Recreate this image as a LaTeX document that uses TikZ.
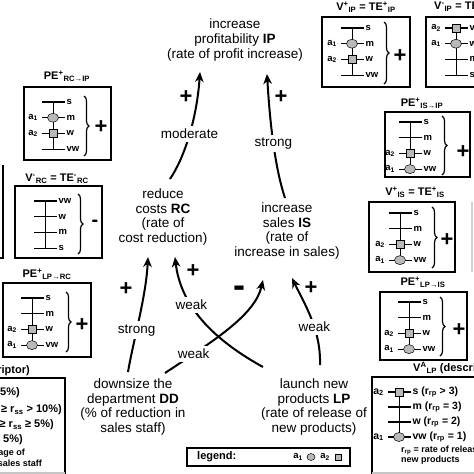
\documentclass[tikz,border=0pt]{standalone}
\usepackage{fontspec}
\setmainfont{Liberation Sans}
\usetikzlibrary{arrows.meta,calc,shapes.geometric,decorations.pathreplacing}
\tikzset{
	goal/.style={align=center,inner sep=1pt,font=\fontsize{13.5}{14.8}\selectfont},
	link/.style={line width=2pt,-{Stealth[length=10pt,width=8.5pt,inset=3pt]}},
	strength/.style={fill=white,inner xsep=1pt,inner ysep=3pt,font=\fontsize{13.5}{14}\selectfont},
	plus/.style={inner sep=0pt,font=\fontsize{22}{22}\bfseries\selectfont},
	minus/.style={inner sep=0pt,font=\fontsize{#1}{#1}\bfseries\selectfont},
	panel/.style={draw,line width=1.2pt},
	boxtitle/.style={inner sep=0pt,font=\fontsize{11}{12}\bfseries\selectfont},
	rung/.style={line width=1.2pt},
	pole/.style={line width=0.7pt},
	rlab/.style={anchor=west,inner sep=1pt,font=\fontsize{9.5}{10}\bfseries\selectfont},
	alab/.style={anchor=east,inner sep=1pt,font=\fontsize{9.5}{10}\bfseries\selectfont},
	desc/.style={anchor=east,inner sep=1pt,font=\fontsize{11}{12}\bfseries\selectfont},
	note/.style={inner sep=0pt,align=left,font=\fontsize{9}{10}\bfseries\selectfont},
	mkc/.style={ellipse,draw,fill=gray!55,minimum width=11pt,minimum height=9pt,inner sep=0pt,line width=0.5pt},
	mks/.style={draw,fill=gray!55,minimum size=7.5pt,inner sep=0pt,line width=0.5pt},
	curly/.style={decorate,decoration={brace,amplitude=5pt},line width=1.2pt}
}
% one scale: name, x, top y, spacing, rungs (label/marker)
\newcommand{\ladder}[5]{%
	\draw[pole] (#2,#3) -- (#2,{#3+3*#4});
	\foreach \lab/\mk [count=\i from 0] in {#5}{
		\draw[rung] ({#2-11},{#3+\i*#4}) -- ({#2+12},{#3+\i*#4}) node[rlab] (#1-\i) {\lab};
		\ifnum\mk=1\relax
			\node[mkc] (#1-c) at (#2,{#3+\i*#4}) {};
			\node[alab] (#1-a) at ({#2-14},{#3+\i*#4}) {a\textsubscript{1}};
		\fi
		\ifnum\mk=2\relax
			\node[mks] (#1-q) at (#2,{#3+\i*#4}) {};
			\node[alab] (#1-b) at ({#2-14},{#3+\i*#4}) {a\textsubscript{2}};
		\fi
	}
}

\begin{document}
\begin{tikzpicture}[x=1pt,y=-1pt]
	\useasboundingbox (0,0) rectangle (474,474);
	\clip (0,0) rectangle (474,474);

	% goals
	\node[goal] (ip) at (235,40) {increase\\profitability \textbf{IP}\\(rate of profit increase)};
	\node[goal] (rc) at (163,217) {reduce\\costs \textbf{RC}\\(rate of\\cost reduction)};
	\node[goal] (is) at (287,231) {increase\\sales \textbf{IS}\\(rate of\\increase in sales)};
	\node[goal] (dd) at (133,407) {downsize the\\department \textbf{DD}\\(\% of reduction in\\sales staff)};
	\node[goal] (lp) at (314,407) {launch new\\products \textbf{LP}\\(rate of release of\\new products)};

	% influences
	\draw[link] ($(rc)+(7,-38)$) .. controls +(15,-22) and +(-3,45) .. ($(ip)+(-35,32)$) node[strength,pos=.5] (w1) {moderate};
	\draw[link] ($(is)+(-2,-33)$) .. controls +(-10,-30) and +(3,50) .. ($(ip)+(32,34)$) node[strength,pos=.5] (w2) {strong};
	\draw[link] ($(dd)+(-5,-35)$) .. controls +(5,-30) and +(-2,40) .. ($(rc)+(-15,40)$) node[strength,pos=.4] (w3) {strong};
	\draw[link] ($(lp)+(-51,-40)$) .. controls +(-58,-32) and +(5,43) .. ($(rc)+(12,40)$) node[strength,pos=.6] (w4) {weak};
	\draw[link] ($(dd)+(32,-34)$) .. controls +(50,-33) and +(-8,35) .. ($(is)+(-24,49)$) node[strength,pos=.2] (w5) {weak};
	\draw[link] ($(lp)+(6,-42)$) .. controls +(1,-35) and +(13,27) .. ($(is)+(5,47)$) node[strength,pos=.4] (w6) {weak};

	\node[plus] (s1) at (186,97) {+};
	\node[plus] (s2) at (281,97) {+};
	\node[plus] (s3) at (126,289) {+};
	\node[plus] (s4) at (193,271) {+};
	\node[minus=36] (s5) at (239,292) {-};
	\node[plus] (s6) at (311,288) {+};

	% PE+ RC->IP
	\draw[panel] (24,87) rectangle (111,160);
	\node[boxtitle] (ta) at (67,76) {PE\textsuperscript{+}\textsubscript{RC→IP}};
	\ladder{la}{53}{102}{15.7}{s/0,m/1,w/2,vw/0}
	\draw[curly] (84,96) -- (84,156);
	\node[plus] (pa) at (101,127) {+};

	% V+ IP
	\draw[panel] (322,17) rectangle (410,87);
	\node[boxtitle] (tb) at (366,7) {V\textsuperscript{+}\textsubscript{IP} = TE\textsuperscript{+}\textsubscript{IP}};
	\ladder{lb}{352}{28}{15.7}{s/0,m/1,w/2,vw/0}
	\draw[curly] (384,22) -- (384,84);
	\node[plus] (pb) at (400,56) {+};

	% V- IP
	\draw[panel] (426,17) rectangle (490,87);
	\node[boxtitle,anchor=west] (tc) at (434,7) {V\textsuperscript{-}\textsubscript{IP} = TE\textsuperscript{-}\textsubscript{IP}};
	\ladder{lc}{456}{28}{15.7}{vw/2,w/1,m/0,s/0}

	% PE+ IS->IP
	\draw[panel] (385,112) rectangle (470,177);
	\node[boxtitle] (td) at (422,103) {PE\textsuperscript{+}\textsubscript{IS→IP}};
	\ladder{ld}{410}{122}{15.7}{s/0,m/0,w/2,vw/1}
	\draw[curly] (442,116) -- (442,175);
	\node[plus] (pd) at (463,152) {+};

	% V+ IS
	\draw[panel] (369,202) rectangle (455,272);
	\node[boxtitle] (te) at (415,192) {V\textsuperscript{+}\textsubscript{IS} = TE\textsuperscript{+}\textsubscript{IS}};
	\ladder{le}{400}{213}{15.7}{s/0,m/0,w/2,vw/1}
	\draw[curly] (432,207) -- (432,268);
	\node[plus] (pe) at (447,240) {+};
	\draw[gray!35,line width=1.2pt] (472,202) -- (472,272);

	% PE+ LP->IS
	\draw[panel] (380,292) rectangle (467,360);
	\node[boxtitle] (tf) at (423,282) {PE\textsuperscript{+}\textsubscript{LP→IS}};
	\ladder{lf}{409}{302}{15.7}{s/0,m/0,w/2,vw/1}
	\draw[curly] (440,297) -- (440,356);
	\node[plus] (pf) at (459,330) {+};

	% VA LP
	\draw[panel] (372,377) rectangle (490,490);
	\node[boxtitle,anchor=west] (tg) at (413,368) {V\textsuperscript{A}\textsubscript{LP} (descriptor)};
	\begin{scope}[rlab/.append style={font=\fontsize{10.5}{11}\bfseries\selectfont},
		alab/.append style={font=\fontsize{10.5}{11}\bfseries\selectfont}]
	\ladder{lg}{399}{392}{15}{s (r\textsubscript{rp} > 3)/2,m (r\textsubscript{rp} = 3)/0,w (r\textsubscript{rp} = 2)/0,vw (r\textsubscript{rp} = 1)/1}
	\end{scope}
	\node[note,anchor=north west] (ng) at (401,446) {r\textsubscript{rp} = rate of release of\\new products};
	\draw[gray!45,line width=1.5pt] (372,473) -- (480,473);

	% V- RC
	\draw[panel] (15,186) rectangle (102,258);
	\node[boxtitle] (th) at (57,179) {V\textsuperscript{-}\textsubscript{RC} = TE\textsuperscript{-}\textsubscript{RC}};
	\ladder{lh}{45}{201}{15.7}{vw/0,w/0,m/0,s/0}
	\draw[curly] (78,194) -- (78,254);
	\node[minus=20] (ph) at (95,223) {-};
	\draw[panel] (3,165) -- (3,258) -- (-5,258);

	% PE+ LP->RC
	\draw[panel] (3,283) rectangle (91,357);
	\node[boxtitle] (ti) at (47,274) {PE\textsuperscript{+}\textsubscript{LP→RC}};
	\ladder{li}{32}{298}{15.7}{s/0,m/0,w/2,vw/1}
	\draw[curly] (66,292) -- (66,352);
	\node[plus] (pi) at (82,325) {+};

	% VA DD
	\draw[panel] (-5,378) -- (65,378) -- (65,480);
	\node[boxtitle,anchor=east] (tj) at (30,370) {V\textsuperscript{A}\textsubscript{DD} (descriptor)};
	\node[desc] (j1) at (21,393) {s (r\textsubscript{ss} > 15\%)};
	\node[desc] (j2) at (63,410) {m (15\% ≥ r\textsubscript{ss} > 10\%)};
	\node[desc] (j3) at (55,425) {w (10\% ≥ r\textsubscript{ss} ≥ 5\%)};
	\node[desc] (j4) at (24,440) {vw (r\textsubscript{ss} < 5\%)};
	\node[note,anchor=east] (j5) at (25,453) {r\textsubscript{ss} = percentage of};
	\node[note,anchor=east] (j6) at (42,463) {reduction of sales staff};
	\draw[gray!45,line width=1.5pt] (-5,473) -- (65,473);

	% legend
	\draw[panel] (187,448) rectangle (350,466);
	\node[boxtitle,anchor=west] (lgd) at (197,457) {legend:};
	\node[alab] (lg1) at (304,457) {a\textsubscript{1}};
	\node[mkc,minimum width=8pt,minimum height=7pt] (lgc) at (311,457) {};
	\node[alab] (lg2) at (331,457) {a\textsubscript{2}};
	\node[mks,minimum size=6.5pt] (lgq) at (338,457) {};
\end{tikzpicture}
\end{document}
